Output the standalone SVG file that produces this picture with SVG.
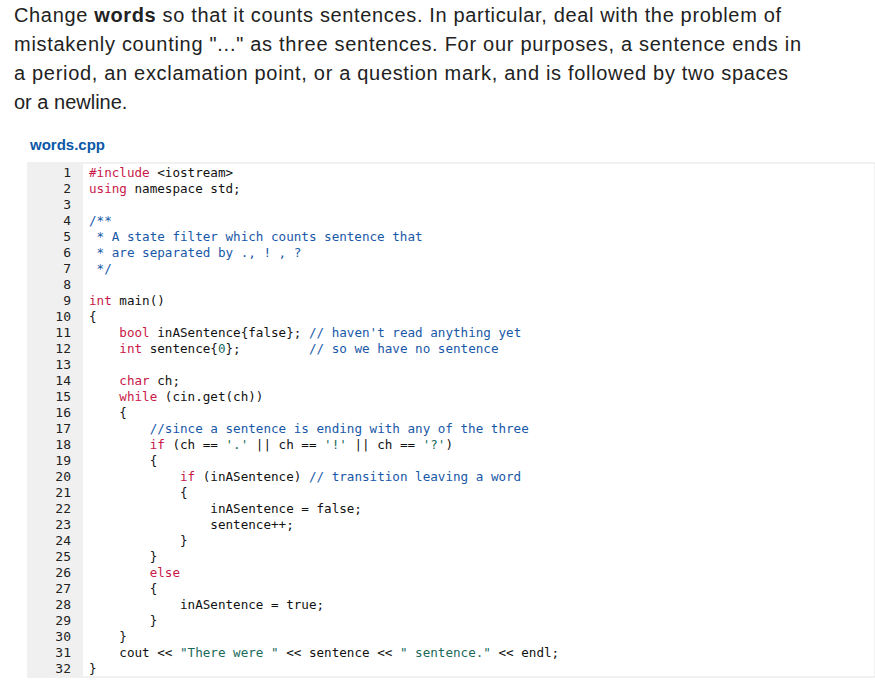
<svg xmlns="http://www.w3.org/2000/svg" width="875" height="682" viewBox="0 0 875 682">
<style>
.p{font-family:"Liberation Sans",Arial,sans-serif;font-size:20px;fill:#222}
.t{font-family:"Liberation Sans",Arial,sans-serif;font-size:15px;font-weight:bold;fill:#0b57a8}
.c{font-family:"DejaVu Sans Mono",monospace;font-size:12.6px;fill:#111;white-space:pre}
.n{font-family:"DejaVu Sans Mono",monospace;font-size:13px;fill:#222;text-anchor:end}
.k{fill:#c81848}.m{fill:#1858a8}.s{fill:#1a6a5a}
</style>
<rect width="875" height="682" fill="#fff"/>
<g id="prompt">
<text class="p" x="14" y="22" textLength="767" lengthAdjust="spacing">Change <tspan font-weight="bold">words</tspan> so that it counts sentences. In particular, deal with the problem of</text>
<text class="p" x="14" y="51" textLength="787" lengthAdjust="spacing">mistakenly counting "..." as three sentences. For our purposes, a sentence ends in</text>
<text class="p" x="14" y="80" textLength="774" lengthAdjust="spacing">a period, an exclamation point, or a question mark, and is followed by two spaces</text>
<text class="p" x="14" y="109">or a newline.</text>
</g>
<g id="title"><text class="t" x="30" y="150">words.cpp</text></g>
<g id="frame">
<rect x="28" y="163" width="847" height="514" fill="#fff" stroke="#e4e4e4"/>
<rect x="28" y="163" width="55" height="514" fill="#f0f0f0"/>
</g>
<g id="linenos">
<text class="n" x="71" y="177">1</text><text class="n" x="71" y="193">2</text><text class="n" x="71" y="209">3</text><text class="n" x="71" y="225">4</text><text class="n" x="71" y="241">5</text><text class="n" x="71" y="257">6</text><text class="n" x="71" y="273">7</text><text class="n" x="71" y="289">8</text><text class="n" x="71" y="305">9</text><text class="n" x="71" y="321">10</text><text class="n" x="71" y="337">11</text><text class="n" x="71" y="353">12</text><text class="n" x="71" y="369">13</text><text class="n" x="71" y="385">14</text><text class="n" x="71" y="401">15</text><text class="n" x="71" y="417">16</text><text class="n" x="71" y="433">17</text><text class="n" x="71" y="449">18</text><text class="n" x="71" y="465">19</text><text class="n" x="71" y="481">20</text><text class="n" x="71" y="497">21</text><text class="n" x="71" y="513">22</text><text class="n" x="71" y="529">23</text><text class="n" x="71" y="545">24</text><text class="n" x="71" y="561">25</text><text class="n" x="71" y="577">26</text><text class="n" x="71" y="593">27</text><text class="n" x="71" y="609">28</text><text class="n" x="71" y="625">29</text><text class="n" x="71" y="641">30</text><text class="n" x="71" y="657">31</text><text class="n" x="71" y="673">32</text>
</g>
<g id="code" xml:space="preserve">
<text class="c" x="89" y="177"><tspan class="k">#include</tspan> &lt;iostream&gt;</text>
<text class="c" x="89" y="193"><tspan class="k">using</tspan> namespace std;</text>
<text class="c m" x="89" y="225">/**</text>
<text class="c m" x="89" y="241"> * A state filter which counts sentence that</text>
<text class="c m" x="89" y="257"> * are separated by ., ! , ?</text>
<text class="c m" x="89" y="273"> */</text>
<text class="c" x="89" y="305"><tspan class="k">int</tspan> main()</text>
<text class="c" x="89" y="321">{</text>
<text class="c" x="89" y="337">    <tspan class="k">bool</tspan> inASentence{false}; <tspan class="m">// haven't read anything yet</tspan></text>
<text class="c" x="89" y="353">    <tspan class="k">int</tspan> sentence{<tspan class="s">0</tspan>};         <tspan class="m">// so we have no sentence</tspan></text>
<text class="c" x="89" y="385">    <tspan class="k">char</tspan> ch;</text>
<text class="c" x="89" y="401">    <tspan class="k">while</tspan> (cin.get(ch))</text>
<text class="c" x="89" y="417">    {</text>
<text class="c" x="89" y="433">        <tspan class="m">//since a sentence is ending with any of the three</tspan></text>
<text class="c" x="89" y="449">        <tspan class="k">if</tspan> (ch == <tspan class="s">'.'</tspan> || ch == <tspan class="s">'!'</tspan> || ch == <tspan class="s">'?'</tspan>)</text>
<text class="c" x="89" y="465">        {</text>
<text class="c" x="89" y="481">            <tspan class="k">if</tspan> (inASentence) <tspan class="m">// transition leaving a word</tspan></text>
<text class="c" x="89" y="497">            {</text>
<text class="c" x="89" y="513">                inASentence = false;</text>
<text class="c" x="89" y="529">                sentence++;</text>
<text class="c" x="89" y="545">            }</text>
<text class="c" x="89" y="561">        }</text>
<text class="c" x="89" y="577">        <tspan class="k">else</tspan></text>
<text class="c" x="89" y="593">        {</text>
<text class="c" x="89" y="609">            inASentence = true;</text>
<text class="c" x="89" y="625">        }</text>
<text class="c" x="89" y="641">    }</text>
<text class="c" x="89" y="657">    cout &lt;&lt; <tspan class="s">"There were "</tspan> &lt;&lt; sentence &lt;&lt; <tspan class="s">" sentence."</tspan> &lt;&lt; endl;</text>
<text class="c" x="89" y="673">}</text>
</g>
</svg>
